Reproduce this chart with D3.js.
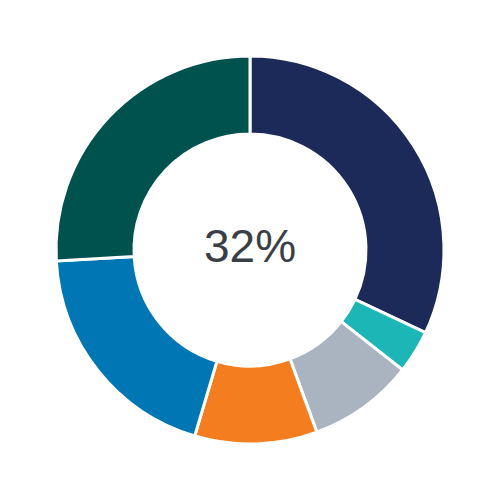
<!DOCTYPE html>
<html><head><meta charset="utf-8">
<script src="https://cdn.jsdelivr.net/npm/d3@7"></script>
<style>body{margin:0;background:#fff}</style>
</head><body>
<svg id="c" width="500" height="500"></svg>
<script>
const categories = ["A","B","C","D","E","F"];
const values = [32, 3.6, 8.8, 10.2, 19.5, 25.9];
const colors = ["#1c2a5a","#1db6b6","#aab4c1","#f47d20","#0076b5","#00524f"];
const centerLabel = "32%";

const svg = d3.select("#c");
const g = svg.append("g").attr("transform","translate(250,250)");
const pie = d3.pie().sort(null).value(d=>d)(values);
const arc = d3.arc().innerRadius(116).outerRadius(194);
g.selectAll("path").data(pie).enter().append("path")
  .attr("d", arc)
  .attr("fill",(d,i)=>colors[i])
  .attr("stroke","#fff").attr("stroke-width",3);
g.append("text").attr("text-anchor","middle").attr("y",12)
  .attr("font-family","Liberation Sans, Arial, sans-serif")
  .attr("font-size",46).attr("fill","#3a3f47").text(centerLabel);
</script>
</body></html>
